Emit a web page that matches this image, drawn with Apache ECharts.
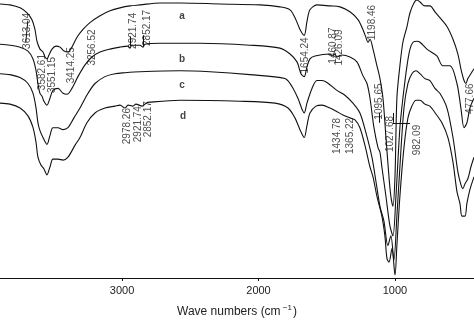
<!DOCTYPE html>
<html><head><meta charset="utf-8">
<script src="https://cdn.jsdelivr.net/npm/echarts@6/dist/echarts.min.js"></script>
<style>html,body{margin:0;padding:0;background:#fff}#c{width:474px;height:323px}</style>
</head><body><div id="c"></div>
<script>
// [wavenumber (cm-1), transmittance (a.u.)]
const curveA = [[3894,279],[3821,278],[3747,275],[3696,270],[3660,263],[3638,253],[3623,241],[3601,233],[3579,230],[3564,225],[3550,223],[3535,227],[3513,233],[3484,236],[3454,235],[3425,231],[3396,230],[3367,235],[3330,245],[3286,253],[3235,260],[3161,267],[3088,272],[3015,275],[2942,277],[2868,278],[2722,280],[2575,280],[2282,279],[1989,278],[1843,276],[1769,273],[1726,263],[1696,253],[1665,247],[1645,261],[1623,273],[1572,278],[1476,277],[1403,276],[1330,271],[1271,263],[1235,253],[1213,245],[1198,240],[1183,243],[1161,233],[1132,216],[1110,203],[1088,183],[1066,143],[1044,103],[1030,83],[1015,73],[1000,103],[986,183],[964,216],[942,240],[912,256],[890,270],[861,280],[839,283],[817,281],[781,277],[744,277],[707,271],[671,265],[619,256],[575,243],[539,228],[517,213],[494,201],[480,198],[466,203],[444,208],[421,213]];
const curveB = [[3894,238],[3821,237],[3747,235],[3689,231],[3652,223],[3630,211],[3616,198],[3601,188],[3586,185],[3572,180],[3550,176],[3528,183],[3506,191],[3469,193],[3432,188],[3403,187],[3367,193],[3323,205],[3271,217],[3220,225],[3161,230],[3088,233],[3015,235],[2956,236],[2942,234],[2927,237],[2868,237],[2846,235],[2832,238],[2722,239],[2429,239],[2063,237],[1843,234],[1769,228],[1718,220],[1689,208],[1665,205],[1645,215],[1623,223],[1586,226],[1476,228],[1460,226],[1440,228],[1426,225],[1389,227],[1330,225],[1279,220],[1235,206],[1205,198],[1183,183],[1154,153],[1125,133],[1110,128],[1096,113],[1066,83],[1037,53],[1015,43],[993,83],[964,153],[942,183],[912,216],[890,233],[868,240],[839,241],[817,240],[766,233],[693,226],[649,216],[597,216],[546,198],[517,173],[494,153],[473,158],[451,173],[421,183]];
const curveC = [[3894,208],[3821,207],[3747,204],[3689,198],[3652,188],[3630,173],[3616,158],[3601,150],[3579,143],[3550,136],[3528,145],[3506,153],[3469,153],[3432,151],[3396,153],[3352,163],[3308,173],[3249,188],[3198,198],[3125,205],[3052,208],[2978,209],[2868,210],[2575,211],[2356,210],[2063,207],[1806,203],[1755,195],[1711,183],[1665,168],[1645,178],[1608,193],[1572,201],[1535,201],[1498,199],[1425,191],[1367,186],[1308,178],[1257,168],[1213,148],[1169,123],[1139,98],[1110,73],[1081,58],[1052,33],[1030,43],[1008,18],[986,63],[964,113],[934,173],[905,198],[876,208],[846,211],[817,208],[781,203],[744,201],[707,193],[671,188],[619,173],[575,143],[539,108],[517,95],[502,91],[487,96],[466,101],[444,113],[421,123]];
const curveD = [[3894,178],[3821,177],[3747,173],[3689,165],[3652,153],[3630,138],[3616,123],[3594,115],[3572,111],[3550,105],[3528,113],[3506,121],[3469,121],[3432,120],[3396,123],[3345,135],[3308,143],[3257,158],[3198,168],[3125,173],[3052,175],[3015,176],[2978,173],[2956,176],[2921,175],[2898,177],[2852,175],[2824,178],[2795,179],[2575,181],[2136,180],[1879,178],[1784,173],[1733,163],[1696,151],[1665,143],[1645,155],[1623,168],[1579,175],[1535,176],[1476,173],[1433,170],[1381,166],[1330,163],[1293,161],[1257,153],[1220,135],[1183,113],[1161,103],[1132,83],[1096,63],[1074,43],[1059,20],[1044,16],[1022,30],[1000,3],[986,33],[964,83],[934,133],[905,163],[876,175],[846,181],[817,181],[781,177],[744,175],[700,167],[656,158],[612,143],[575,118],[546,88],[524,76],[509,63],[487,63],[473,76],[451,90],[421,103]];
// peak annotations: [text, wavenumber, transmittance at top of text]
const peakLabels = [["3613.04",3696,270],["3582.61",3586,228],["3551.15",3513,225],["3414.25",3374,235],["3256.52",3220,253],["2921.74",2920,270],["2852.17",2817,273],["1654.24",1660,245],["1460.87",1454,255],["1426.09",1410,253],["1198.46",1169,278],["1095.65",1117,198],["1027.68",1037,165],["982.09",839,156],["477.66",451,198],["2978.26",2964,173],["2921.74",2883,175],["2852.17",2810,180],["1434.78",1425,163],["1365.22",1330,163]];
// short leader segments at marked peaks: [w1, t1, w2, t2]
const leaders = [[3705,240,3690,262],[2942,236,2942,246],[2846,236,2846,247],[1015,158,890,158],[1015,158,1015,168],[1117,168,1117,158]];
const curveNames = ["a","b","c","d"];
const curveNamePos = [[2561,266],[2561,223],[2561,196],[2553,165]];
const xTicks = [1000,2000,3000];

const lineSeries = [curveA,curveB,curveC,curveD].map((d,i)=>({
  type:'line', name:curveNames[i], data:d, showSymbol:false, smooth:0.3,
  lineStyle:{color:'#111',width:1.1}, silent:true, clip:false
}));
lineSeries[3].markLine = {silent:true,symbol:'none',label:{show:false},
  lineStyle:{color:'#111',width:1,type:'solid'},
  data:leaders.map(s=>[{coord:[s[0],s[1]]},{coord:[s[2],s[3]]}])};
const option = {
  animation:false,
  grid:{left:0,right:0,top:0,bottom:40},
  xAxis:{type:'value',inverse:true,min:421,max:3894,
    axisLine:{lineStyle:{color:'#111',width:1}},
    axisTick:{show:true,length:3,lineStyle:{color:'#111'},customValues:xTicks},
    axisLabel:{customValues:xTicks,formatter:v=>String(v),color:'#222',fontFamily:'Liberation Sans',fontSize:11,margin:7},
    splitLine:{show:false},
    name:'{n|Wave numbers (cm}{s| \u22121}{n|)}',nameLocation:'middle',nameGap:26,
    nameTextStyle:{rich:{n:{fontFamily:'Liberation Sans',fontSize:12,color:'#222'},s:{fontFamily:'Liberation Sans',fontSize:8,color:'#222',verticalAlign:'top',padding:[0,1,8,0]}}}
  },
  yAxis:{type:'value',min:0,max:283,show:false},
  series:[...lineSeries,
    {type:'scatter',symbolSize:0,silent:true,
     data:peakLabels.map(p=>({name:p[0],value:[p[1],p[2]]})),
     label:{show:true,formatter:'{b}',rotate:90,position:[0,0],align:'right',verticalAlign:'middle',fontFamily:'Liberation Sans',fontSize:10,color:'#222'}},
    {type:'scatter',symbolSize:0,silent:true,
     data:curveNames.map((n,i)=>({name:n,value:curveNamePos[i]})),
     label:{show:true,formatter:'{b}',position:[0,0],align:'center',verticalAlign:'middle',fontFamily:'Liberation Sans',fontSize:10,fontWeight:'bold',color:'#111'}}
  ]
};
echarts.init(document.getElementById('c')).setOption(option);
</script></body></html>
